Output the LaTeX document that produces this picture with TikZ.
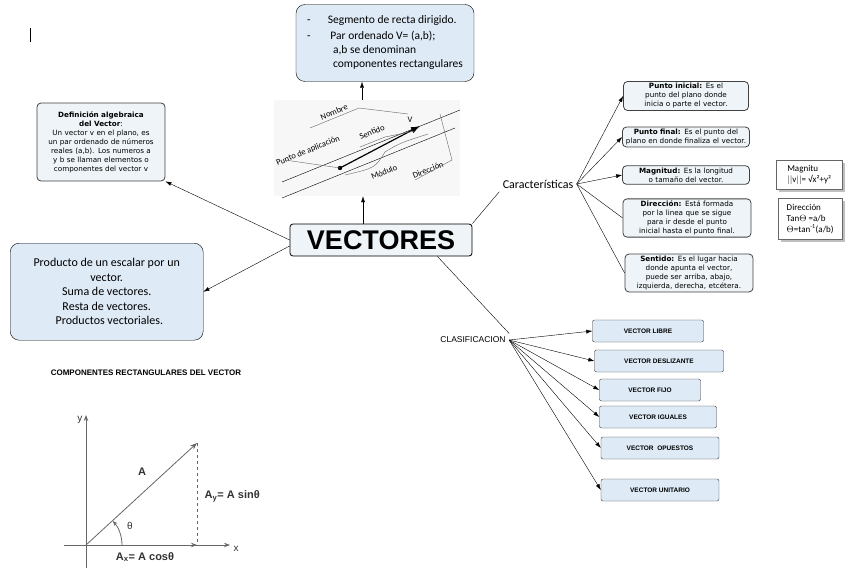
\documentclass[tikz,border=0pt]{standalone}
\usepackage{fontspec}
\setmainfont{Carlito}
\newfontfamily\verd{DejaVu Sans}
\newfontfamily\arl{Liberation Sans}
\usetikzlibrary{arrows.meta,shadows}
\definecolor{boxfill}{RGB}{222,234,246}
\definecolor{cardfill}{RGB}{238,244,247}
\tikzset{
  card/.style={draw=black!75, fill=cardfill, rounded corners=4pt, thick, align=center,
    font={\verd\fontsize{7.2}{9}\selectfont\hyphenpenalty=10000}, inner sep=2pt},
  kind/.style={draw=black!80, fill=boxfill, rounded corners=2pt, align=center,
    font={\arl\bfseries\fontsize{6.5}{8}\selectfont}, minimum height=22pt},
  big/.style={draw=black, fill=boxfill, rounded corners=9pt, align=left, font=\fontsize{11.5}{14}\selectfont},
  formula/.style={draw=black!60, fill=white, align=left, font=\fontsize{9}{11}\selectfont,
    drop shadow},
  link/.style={-{Latex[length=6pt,width=4pt]}, thin},
  plain/.style={thin}
}
\begin{document}
\begin{tikzpicture}[x=1pt,y=-1pt]
\useasboundingbox (0,0) rectangle (853,586);
\draw (30,28) -- (30,42);
% centre
\node[draw=black, fill=cardfill, rounded corners=3pt, thick, font=\arl\bfseries\fontsize{27}{30}\selectfont,
  minimum width=182pt, minimum height=32pt, inner sep=0pt] (vec) at (381,240) {VECTORES};
% top box
\node[big, minimum width=178pt, minimum height=77pt, inner sep=4pt] (seg) at (385,43) {%
  \begin{tabular}{@{}ll@{}}-&\ \ Segmento de recta dirigido.\\[2pt]
  -&\ \ \ Par ordenado V= (a,b);\\
   &\ \ \ \ a,b se denominan\\
   &\ \ \ \ componentes rectangulares\end{tabular}};
% sketch
\node[minimum width=186pt, minimum height=96pt, fill=black!3] (pic) at (367,148) {};
\begin{scope}[font=\fontsize{8.5}{9}\selectfont\rmfamily, thin]
\draw (282,182) -- (460,110);
\draw (282,198) -- (455,128) ;
\draw[very thick, -{Latex[length=9pt]}] (340,168) -- (420,126);
\fill (340,168) circle (2.2pt);
\draw[black!60] (285,160) -- (340,168);
\node[rotate=22] (nom) at (334,112) {Nombre};
\node[rotate=22] (pda) at (308,151) {Punto de aplicación};
\node[rotate=22] (sen) at (372,132) {Sentido};
\node (vv) at (410,120) {V};
\node[rotate=22] (mod) at (384,172) {Módulo};
\node[rotate=22] (dir) at (428,170) {Dirección};
\draw[black!60] (310,128) -- (359,108) -- (408,114);
\draw[black!60] (360,147) -- (385,137) -- (415,131);
\draw[black!60] (440,114) -- (452,160) -- (415,180);
\draw[black!60] (345,175) .. controls (375,168) .. (385,152) .. controls (400,143) .. (428,134);
\end{scope}
% definition
\node[card, text width=124pt, minimum height=78pt] (def) at (101,142) {%
  \textbf{Definición algebraica del Vector}:\\Un vector v en el plano, es un par ordenado de números reales (a,b). Los numeros a y b se llaman elementos o componentes del vector v};
% producto
\node[big, align=center, minimum width=193pt, minimum height=97pt, inner sep=3pt, anchor=north west,
  font=\fontsize{12}{14.5}\selectfont] (prod) at (10,243) {%
  Producto de un escalar por un\\ vector.\\Suma de vectores.\\Resta de vectores.\\ \ \ Productos vectoriales.};
% caracteristicas
\node[font=\fontsize{12}{14}\selectfont] (car) at (538,184) {Características};
\node[card, text width=121pt] (pin) at (686,96) {\textbf{Punto inicial:} Es el punto del plano donde inicia o parte el vector.};
\node[card, text width=123pt] (pfi) at (686,137) {\textbf{Punto final:} Es el punto del plano en donde finaliza el vector.};
\node[card, text width=123pt] (mag) at (686,175) {\textbf{Magnitud:} Es la longitud o tamaño del vector.};
\node[card, text width=124pt] (dire) at (687,218) {\textbf{Dirección:} Está formada por la linea que se sigue para ir desde el punto inicial hasta el punto final.};
\node[card, text width=124pt] (sent) at (689,273) {\textbf{Sentido:} Es el lugar hacia donde apunta el vector, puede ser arriba, abajo, izquierda, derecha, etcétera.};
\node[formula, anchor=north west, minimum width=66pt, minimum height=29pt, inner sep=2pt] (fm) at (776,160) {Magnitu\\$||$v$||$= √x²+y²};
\node[formula, anchor=north west, minimum width=64pt, minimum height=41pt, inner sep=2pt] (fd) at (778,198) {Dirección\\{\rmfamily Tan$\Theta$ =a/b}\\{\rmfamily $\Theta$=tan\textsuperscript{-1}(a/b)}};
% clasificacion
\node[font=\arl\fontsize{8.5}{10}\selectfont] (cla) at (473,340) {CLASIFICACION};
\node[kind, minimum width=111pt] (k1) at (648,331) {VECTOR LIBRE};
\node[kind, minimum width=129pt] (k2) at (659,361) {VECTOR DESLIZANTE};
\node[kind, minimum width=101pt] (k3) at (650,390) {VECTOR FIJO};
\node[kind, minimum width=117pt] (k4) at (658,417) {VECTOR IGUALES};
\node[kind, minimum width=118pt] (k5) at (660,448) {VECTOR\ \ OPUESTOS};
\node[kind, minimum width=118pt] (k6) at (660,490) {VECTOR UNITARIO};
% components
\node[font=\arl\bfseries\fontsize{8}{9}\selectfont] (comp) at (146,373) {COMPONENTES RECTANGULARES DEL VECTOR};
\begin{scope}[black!60, thick, font=\arl\bfseries\fontsize{11}{12}\selectfont]
\coordinate (o) at (86,545);
\coordinate (tip) at (197,443);
\draw[-{Stealth[length=6pt]}] (64,545) -- (230,545) node[right, black!80, font=\arl\fontsize{10}{11}\selectfont, yshift=-4pt] (xl) {x};
\draw[-{Stealth[length=6pt]}] (86,568) -- (86,415) node[left, black!80, font=\arl\fontsize{10}{11}\selectfont, yshift=-5pt] (yl) {y};
\draw[-{Stealth[length=7pt]}] (o) -- (tip);
\draw[dashed, -{Stealth[length=6pt]}] (o) -- (197,545);
\draw[dashed] (tip) -- (197,545);
\draw[-{Stealth[length=5pt]}] (122,545) arc[start angle=0, end angle=42, radius=36pt];
\node[black!80] (al) at (142,472) {A};
\node[black!80, font=\arl\fontsize{10}{11}\selectfont] (th) at (130,526) {θ};
\node[black!80, anchor=west] (ay) at (201,496) {A\textsubscript{y}= A sinθ};
\node[black!80] (ax) at (145,557) {A\textsubscript{x}= A cosθ};
\end{scope}
% connectors
\draw[link] (vec.north -| 363,0) -- (pic.south -| 363,0);
\draw[link] (pic.north -| 362,0) -- (seg.south -| 362,0);
\draw[link] (vec.west) -- (def.south east);
\draw[link] ([yshift=-6pt]vec.west) -- (prod.east);
\draw[plain] (vec.north east) -- (car.south west);
\draw[link] (car.east) -- (pin.west);
\draw[link] (car.east) -- (pfi.west);
\draw[link] (car.east) -- (mag.west);
\draw[plain] (car.east) -- (dire.west);
\draw[plain] (car.east) -- (sent.west);
\draw[plain] ([xshift=-35pt]vec.south east) -- (cla.north east);
\foreach \k in {k1,k2,k3,k4,k5,k6}
  \draw[link] (cla.east) -- (\k.west);
\end{tikzpicture}
\end{document}
